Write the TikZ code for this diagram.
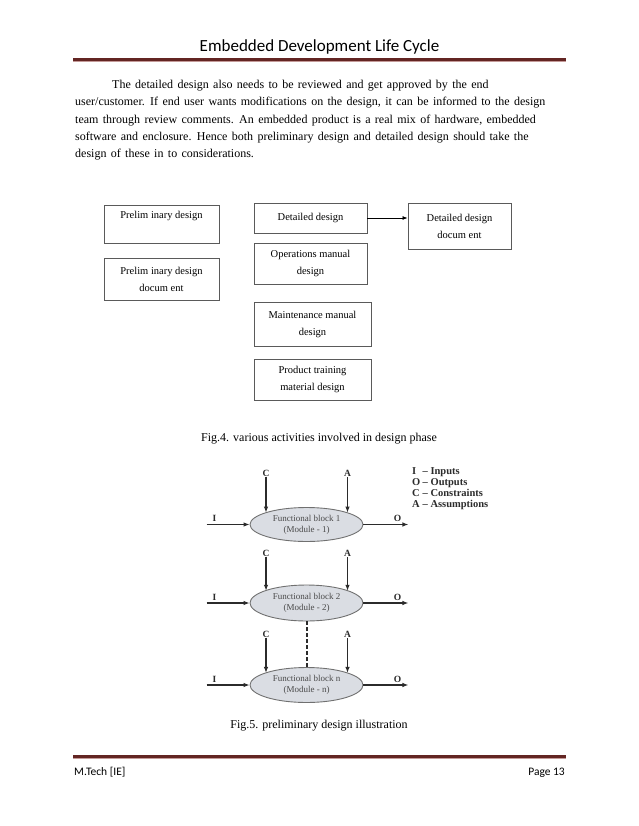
\documentclass[tikz,border=0pt]{standalone}
\usepackage{fontspec}
\setmainfont{Liberation Serif}
\newfontfamily\headfont{Carlito}
\usetikzlibrary{arrows.meta,positioning,shapes.geometric}
\definecolor{rulered}{HTML}{632523}
\definecolor{rulepink}{HTML}{C49A98}
\definecolor{boxline}{HTML}{5A5A5A}
\definecolor{ovalfill}{HTML}{DADDE3}
\definecolor{ovalline}{HTML}{707070}
\definecolor{ovaltext}{HTML}{4A4A4A}
\definecolor{ink}{HTML}{2B2B2B}
\newcommand{\keyrow}[2]{\makebox[10.5pt][l]{#1}-- #2}
\newcommand{\widesp}{\spaceskip=4.35pt\relax}
\tikzset{>=Latex,
 box/.style={draw=boxline,line width=.9pt,align=center,inner sep=2pt,font=\fontsize{10.5}{17}\selectfont},
 oval/.style={ellipse,draw=ovalline,fill=ovalfill,line width=.9pt,minimum width=113pt,minimum height=34pt,inner sep=0pt,align=center,font=\fontsize{9}{11}\selectfont,text=ovaltext},
 flow/.style={-{Latex[length=6pt,width=4.5pt]},line width=1.1pt,ink},
 tag/.style={font=\fontsize{9.5}{9.5}\selectfont\bfseries,inner sep=1pt,text=ink},
 caption/.style={font=\fontsize{12}{14}\selectfont},
 para/.style={align=left,inner sep=0pt,font={\fontsize{12}{17.3}\selectfont\widesp}},
 foot/.style={font=\headfont\fontsize{11.5}{13}\selectfont,inner sep=0pt}}

\begin{document}
\begin{tikzpicture}[x=1pt,y=-1pt]
\fill[white] (0,0) rectangle (638,826);
\useasboundingbox (0,0) rectangle (638,826);
\node[font=\headfont\fontsize{17}{20}\selectfont] (title) at (319.5,47) {Embedded Development Life Cycle};
\draw[rulered,line width=3pt] (73,59.5) -- (566,59.5);
\draw[rulepink,line width=1pt] (73,62) -- (566,62);
\node[para,anchor=north west] (para) at (75,80) {\hspace*{37pt}The detailed design also needs to be reviewed and get approved by the end\\
user/customer. If end user wants modifications on the design, it can be informed to the design\\
team through review comments. An embedded product is a real mix of hardware, embedded\\
software and enclosure. Hence both preliminary design and detailed design should take the\\
design of these in to considerations.};
\node[box,minimum width=115pt,minimum height=38pt] (prelim) at (161.5,224) {Prelim inary design\\[-4pt]\strut};
\node[box,minimum width=115pt,minimum height=42pt] (prelimdoc) at (161.5,279) {Prelim inary design\\docum ent};
\node[box,minimum width=113pt,minimum height=30pt] (detail) at (310.5,218) {Detailed design};
\node[box,minimum width=113pt,minimum height=41pt] (opsman) at (310.5,263.5) {Operations manual\\design};
\node[box,minimum width=117pt,minimum height=44pt] (maintman) at (312.5,324) {Maintenance manual\\design};
\node[box,minimum width=117pt,minimum height=41pt] (training) at (312.5,379.5) {Product training\\material design};
\node[box,minimum width=103pt,minimum height=46pt] (detaildoc) at (459.5,226) {Detailed design\\docum ent};
\draw[-{Latex[length=5pt,width=4pt]},line width=.8pt] (detail.east) -- (detail.east -| detaildoc.west);
\node[caption] (fig4cap) at (319,439) {Fig.4. various activities involved in design phase};
\node[oval] (blk1) at (306.5,524.5) {Functional block 1\\(Module - 1)};
\node[oval,minimum height=36pt] (blk2) at (306.5,603) {Functional block 2\\(Module - 2)};
\node[oval,minimum height=35pt] (blkn) at (306.5,685) {Functional block n\\(Module - n)};
\foreach \b/\ty/\n in {blk1/473/1,blk2/553/2,blkn/634/3}{
  \node[tag] (c\n) at (266,\ty) {C};
  \node[tag] (a\n) at (347.5,\ty) {A};
  \draw[flow] (c\n) -- (c\n |- \b.164);
  \draw[flow] (a\n) -- (a\n |- \b.16);
  \coordinate (src\n) at ([xshift=-43pt]\b.west);
  \coordinate (snk\n) at ([xshift=45pt]\b.east);
  \draw[flow] (src\n) -- (\b.west);
  \draw[flow] (\b.east) -- (snk\n);
  \node[tag,anchor=south] (i\n) at ([xshift=8pt,yshift=1.5pt]src\n) {I};
  \node[tag,anchor=south] (o\n) at ([xshift=-11pt,yshift=1.5pt]snk\n) {O};
}
\draw[ink,line width=2pt,dash pattern=on 4pt off 2pt] (blk2.south) -- (blkn.north);
\node[align=left,anchor=north west,inner sep=0pt,text=ink,font=\fontsize{10.5}{11.2}\selectfont\bfseries] (key) at (412,467) {\keyrow{I}{Inputs}\\\keyrow{O}{Outputs}\\\keyrow{C}{Constraints}\\\keyrow{A}{Assumptions}};
\node[caption] (fig5cap) at (319,726) {Fig.5. preliminary design illustration};
\draw[rulered,line width=3pt] (73,756) -- (566,756);
\draw[rulepink,line width=1pt] (73,758.5) -- (566,758.5);
\node[foot,anchor=base west] (degree) at (74,775) {M.Tech [IE]};
\node[foot,anchor=base east] (pageno) at (565,775) {Page 13};
\end{tikzpicture}
\end{document}
